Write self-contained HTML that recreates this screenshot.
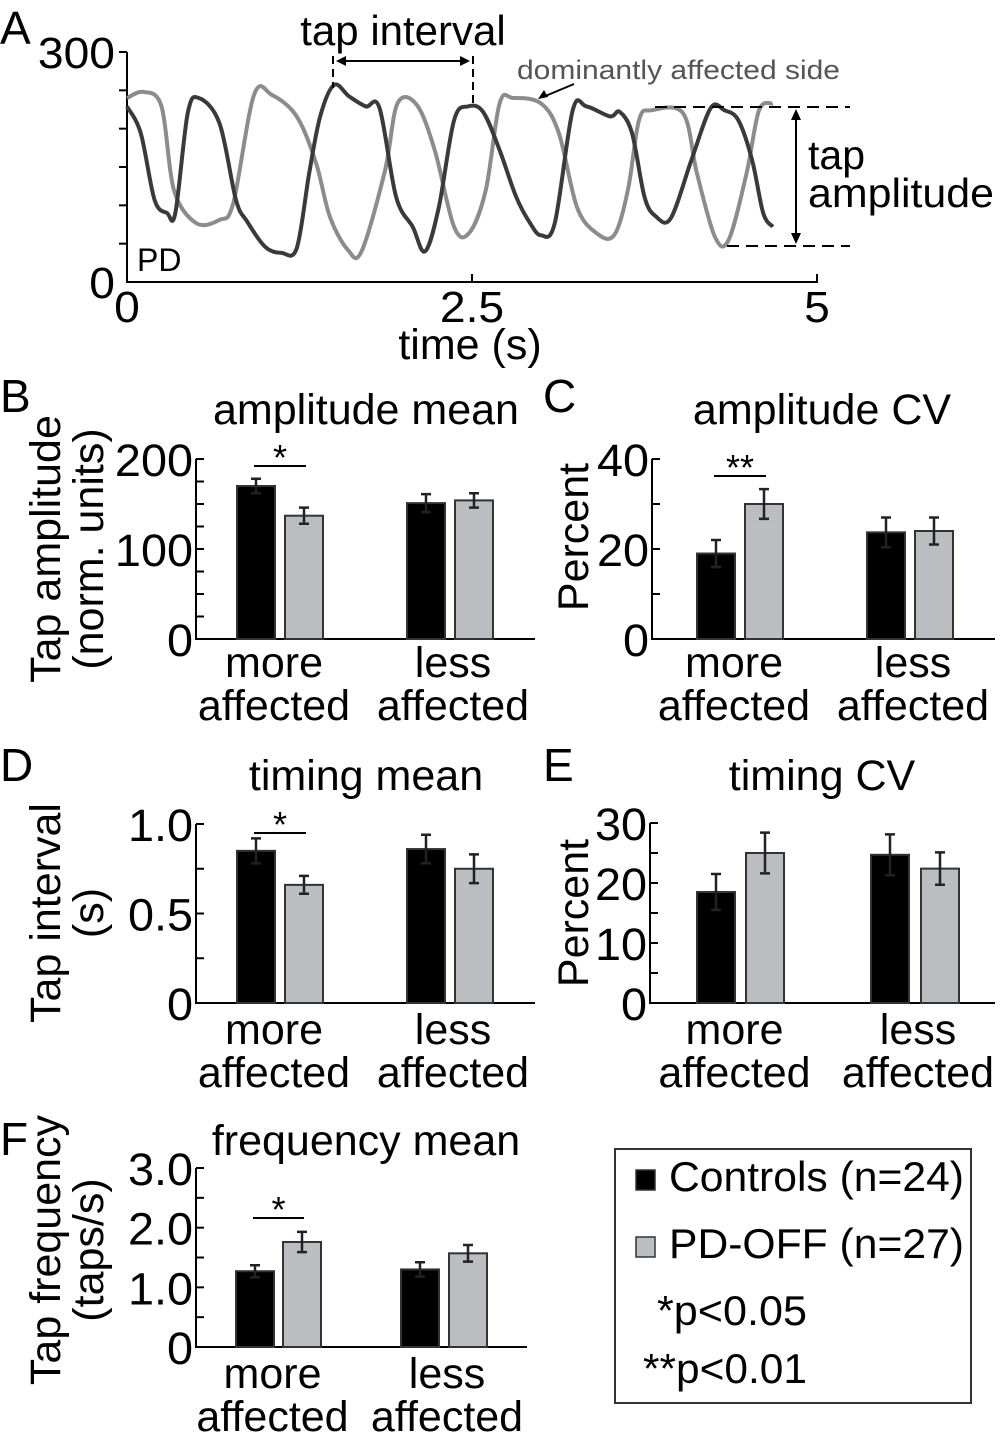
<!DOCTYPE html>
<html><head><meta charset="utf-8"><style>
html,body{margin:0;padding:0;background:#fff}
svg{display:block;font-family:"Liberation Sans",Arial,sans-serif}
</style></head><body>
<svg id="fig" width="1002" height="1445" viewBox="0 0 1002 1445" xmlns="http://www.w3.org/2000/svg"></svg>
<script>
// ---- Panel A data ----
const traceGrayT = [0,0.12,0.25,0.34,0.5,0.67,0.77,0.92,1.05,1.23,1.37,1.47,1.6,1.7,1.87,1.96,2.1,2.23,2.37,2.48,2.6,2.7,2.8,3.0,3.13,3.26,3.4,3.53,3.63,3.71,3.8,4.03,4.13,4.26,4.36,4.49,4.58,4.68];
const traceGrayV = [240,248,229,120,77,81,103,244,244,216,155,85,42,40,146,233,231,172,72,64,120,233,240,233,194,98,64,61,120,211,224,220,142,59,55,142,224,233];
const traceDarkT = [0,0.1,0.2,0.29,0.35,0.44,0.52,0.67,0.79,0.87,1.0,1.12,1.23,1.32,1.4,1.5,1.61,1.73,1.83,1.95,2.07,2.16,2.26,2.37,2.47,2.58,2.7,2.82,2.92,3.0,3.1,3.23,3.33,3.5,3.57,3.66,3.75,3.83,3.94,4.09,4.23,4.33,4.43,4.53,4.61,4.68];
const traceDarkV = [229,194,107,90,90,220,240,207,107,79,46,38,44,142,216,257,242,229,227,111,72,40,98,211,229,222,172,111,77,61,77,224,229,216,222,194,111,86,83,159,227,224,211,159,90,72];
const aYTicks = [0,300];
const aXTicks = [0,2.5,5];
const aXTickLabels = ["0","2.5","5"];

// ---- Bar panel data ----
const groups = ["more affected","less affected"];
const bValues = [170,137,151,154];
const bErrors = [8,9,10,8];
const bTicks = [0,100,200];
const bTickLabels = ["0","100","200"];
const cValues = [19,30,23.7,24];
const cErrors = [3,3.3,3.3,3];
const cTicks = [0,20,40];
const cTickLabels = ["0","20","40"];
const dValues = [0.85,0.66,0.86,0.75];
const dErrors = [0.07,0.05,0.08,0.08];
const dTicks = [0,0.5,1.0];
const dTickLabels = ["0","0.5","1.0"];
const eValues = [18.5,25,24.7,22.4];
const eErrors = [3,3.4,3.4,2.7];
const eTicks = [0,10,20,30];
const eTickLabels = ["0","10","20","30"];
const fValues = [1.27,1.76,1.3,1.57];
const fErrors = [0.1,0.17,0.12,0.14];
const fTicks = [0,1,2,3];
const fTickLabels = ["0","1.0","2.0","3.0"];

const NS="http://www.w3.org/2000/svg";
const svg=document.getElementById('fig');
function mk(tag,attrs,parent,text){const e=document.createElementNS(NS,tag);for(const k in attrs)e.setAttribute(k,attrs[k]);if(text!==undefined)e.textContent=text;(parent||svg).appendChild(e);return e;}
function stx(x,y,sx,size,anchor,parent,text){return mk('text',{x:0,y:0,'font-size':size,'text-anchor':anchor,transform:`translate(${x},${y}) scale(${sx},1)`},parent,text);}

// ---------- Panel A ----------
(function(){
  const g=mk('g',{});
  
  
  const x0=127,x1=817,y0=282,y1=52;
  const sx=t=>x0+(t/5)*(x1-x0);
  const sy=v=>y0-(v/300)*(y0-y1);
  let t=mk('text',{x:0,y:44,'font-size':46},g,'A');
  
  mk('path',{d:`M${x0},${y1} H${x0-8} M${x0},${y1} V${y0} H${x1} V${y0-8}`,stroke:'#000','stroke-width':2,fill:'none'},g);
  for(let v=50;v<300;v+=50){mk('line',{x1:x0,x2:x0-8,y1:sy(v),y2:sy(v),stroke:'#000','stroke-width':2},g);}
  aYTicks.forEach(v=>{const e=stx(x0-12,sy(v)+16,1.05,44,'end',g,String(v));});
  aXTicks.forEach((v,i)=>{mk('line',{x1:sx(v),x2:sx(v),y1:y0,y2:y0-8,stroke:'#000','stroke-width':2},g);const e=stx(sx(v),322,1.05,44,'middle',g,aXTickLabels[i]);});
  t=mk('text',{x:470,y:359,'font-size':43,'text-anchor':'middle'},g,'time (s)');
  t=mk('text',{x:137,y:271,'font-size':32},g,'PD');
  function smooth(T,V){
    const P=T.map((tt,i)=>[sx(tt),sy(V[i])]);
    let d=`M${P[0][0].toFixed(1)},${P[0][1].toFixed(1)}`;
    for(let i=0;i<P.length-1;i++){
      const p0=P[Math.max(0,i-1)],p1=P[i],p2=P[i+1],p3=P[Math.min(P.length-1,i+2)];
      const c1=[p1[0]+(p2[0]-p0[0])/6,p1[1]+(p2[1]-p0[1])/6];
      const c2=[p2[0]-(p3[0]-p1[0])/6,p2[1]-(p3[1]-p1[1])/6];
      d+=` C${c1[0].toFixed(1)},${c1[1].toFixed(1)} ${c2[0].toFixed(1)},${c2[1].toFixed(1)} ${p2[0].toFixed(1)},${p2[1].toFixed(1)}`;
    }
    return d;
  }
  let p=mk('path',{d:smooth(traceGrayT,traceGrayV),fill:'none',stroke:'#8c8c8c','stroke-width':4,'stroke-linejoin':'round'},g);
  
  p=mk('path',{d:smooth(traceDarkT,traceDarkV),fill:'none',stroke:'#3a3a3a','stroke-width':4,'stroke-linejoin':'round'},g);
  
  mk('line',{x1:333,x2:333,y1:56,y2:88,stroke:'#000','stroke-width':2,'stroke-dasharray':'8,5'},g);
  mk('line',{x1:473,x2:473,y1:56,y2:104,stroke:'#000','stroke-width':2,'stroke-dasharray':'8,5'},g);
  mk('line',{x1:338,x2:468,y1:61,y2:61,stroke:'#000','stroke-width':2},g);
  mk('path',{d:'M336,61 l10,-5 v10 z M470,61 l-10,-5 v10 z',fill:'#000'},g);
  t=mk('text',{x:403,y:45,'font-size':42,'text-anchor':'middle'},g,'tap interval');
  t=mk('text',{x:517,y:79,'font-size':27,fill:'#555',textLength:323,lengthAdjust:'spacingAndGlyphs'},g,'dominantly affected side');
  mk('line',{x1:574,x2:543,y1:84,y2:97,stroke:'#000','stroke-width':2},g);
  mk('path',{d:'M538,99 l6,-9 l4,7 z',fill:'#000'},g);
  mk('line',{x1:655,x2:850,y1:107,y2:107,stroke:'#000','stroke-width':2,'stroke-dasharray':'12,7'},g);
  mk('line',{x1:727,x2:850,y1:246,y2:246,stroke:'#000','stroke-width':2,'stroke-dasharray':'12,7'},g);
  mk('line',{x1:796,x2:796,y1:112,y2:241,stroke:'#000','stroke-width':2},g);
  mk('path',{d:'M796,109 l-5,11 h10 z M796,244 l-5,-11 h10 z',fill:'#000'},g);
  t=mk('text',{x:808,y:169,'font-size':41},g,'tap');
  mk('text',{x:808,y:207,'font-size':41,textLength:186,lengthAdjust:'spacingAndGlyphs'},g,'amplitude');
})();

// ---------- Bar panels ----------
function barPanel(o){
  const g=mk('g',{});
  
  
  const sy=v=>o.y0-(v/o.max)*(o.y0-o.y1);
  let t=mk('text',{x:o.lx,y:o.ly,'font-size':46},g,o.letter);
  
  t=mk('text',{x:o.tx,y:o.ty,'font-size':43,'text-anchor':'middle'},g,o.title);
  
  mk('path',{d:`M${o.ax},${o.y1} H${o.ax+8} M${o.ax},${o.y1} V${o.y0} H${o.axEnd}`,stroke:'#000','stroke-width':2,fill:'none'},g);
  for(let v=0;v<=o.max+1e-9;v+=o.minor){mk('line',{x1:o.ax,x2:o.ax+8,y1:sy(v),y2:sy(v),stroke:'#000','stroke-width':2},g);}
  o.ticks.forEach((v,i)=>{const e=stx(o.ax-3,sy(v)+17,1.04,45,'end',g,o.tickLabels[i]);});
  o.ytitle.forEach((s,i)=>{const cx=o.ytx[i];const e=mk('text',{x:cx,y:o.yty,'font-size':43,'text-anchor':'middle',transform:`rotate(-90 ${cx} ${o.yty})`,dy:15},g,s);});
  const bw=38;
  o.values.forEach((v,i)=>{
    const cx=o.centers[i];const top=sy(v);
    const r=mk('rect',{x:cx-bw/2,y:top,width:bw,height:o.y0-top,fill:i%2?'#bcbdc0':'#000',stroke:'#333','stroke-width':2},g);
    
    const e1=sy(v+o.errors[i]),e2=sy(v-o.errors[i]);
    const eb=mk('path',{d:`M${cx},${e1} V${e2} M${cx-5},${e1} h10 M${cx-5},${e2} h10`,stroke:'#222','stroke-width':2.5,fill:'none'},g);
    
  });
  const offs=[-6,3];
  groups.forEach((gname,j)=>{
    const cx=(o.centers[2*j]+o.centers[2*j+1])/2+offs[j];
    const w=gname.split(' ');
    let e=mk('text',{x:cx,y:o.xly,'font-size':43,'text-anchor':'middle'},g,w[0]);
    mk('text',{x:cx,y:o.xly+43,'font-size':43,'text-anchor':'middle'},g,w[1]);
  });
  if(o.sig){
    const y=o.sigY;
    mk('line',{x1:o.centers[0]-2,x2:o.centers[1]+2,y1:y,y2:y,stroke:'#000','stroke-width':2},g);
    const e=mk('text',{x:(o.centers[0]+o.centers[1])/2,y:y+4,'font-size':36,'text-anchor':'middle'},g,o.sig);
    
  }
}
const L={c:[256,304,426,474]};
barPanel({name:'panel-b',letter:'B',lx:0,ly:412,title:'amplitude mean',tx:366,ty:424,ax:196,axEnd:535,y0:639,y1:459,max:200,minor:25,ticks:bTicks,tickLabels:bTickLabels,values:bValues,errors:bErrors,centers:L.c,ytitle:['Tap amplitude','(norm. units)'],ytx:[45,88],yty:549,xly:677,sig:'*',sigY:466});
barPanel({name:'panel-c',letter:'C',lx:543,ly:412,title:'amplitude CV',tx:822,ty:424,ax:652,axEnd:995,y0:639,y1:459,max:40,minor:10,ticks:cTicks,tickLabels:cTickLabels,values:cValues,errors:cErrors,centers:[716,764,886,934],ytitle:['Percent'],ytx:[573],yty:537,xly:677,sig:'**',sigY:476});
barPanel({name:'panel-d',letter:'D',lx:0,ly:781,title:'timing mean',tx:366,ty:790,ax:196,axEnd:535,y0:1003,y1:824,max:1.0,minor:0.25,ticks:dTicks,tickLabels:dTickLabels,values:dValues,errors:dErrors,centers:L.c,ytitle:['Tap interval','(s)'],ytx:[45,88],yty:913,xly:1044,sig:'*',sigY:833});
barPanel({name:'panel-e',letter:'E',lx:543,ly:781,title:'timing CV',tx:822,ty:790,ax:650,axEnd:995,y0:1003,y1:823,max:30,minor:5,ticks:eTicks,tickLabels:eTickLabels,values:eValues,errors:eErrors,centers:[716,765,890,940],ytitle:['Percent'],ytx:[573],yty:913,xly:1044,sig:null});
barPanel({name:'panel-f',letter:'F',lx:0,ly:1155,title:'frequency mean',tx:366,ty:1155,ax:196,axEnd:527,y0:1347,y1:1168,max:3,minor:0.5,ticks:fTicks,tickLabels:fTickLabels,values:fValues,errors:fErrors,centers:[255,302,420,468],ytitle:['Tap frequency','(taps/s)'],ytx:[45,88],yty:1250,xly:1388,sig:'*',sigY:1218});

// ---------- Legend ----------
(function(){
  const g=mk('g',{});
  
  
  mk('rect',{x:615,y:1149,width:356,height:254,fill:'none',stroke:'#333','stroke-width':2},g);
  let r=mk('rect',{x:636,y:1170,width:19,height:20,fill:'#000',stroke:'#333','stroke-width':1.5},g);
  
  let t=mk('text',{x:669,y:1191,'font-size':42,textLength:295,lengthAdjust:'spacingAndGlyphs'},g,'Controls (n=24)');
  
  r=mk('rect',{x:636,y:1237,width:19,height:20,fill:'#bcbdc0',stroke:'#333','stroke-width':1.5},g);
  
  t=mk('text',{x:669,y:1258,'font-size':42,textLength:295,lengthAdjust:'spacingAndGlyphs'},g,'PD-OFF (n=27)');
  
  t=mk('text',{x:657,y:1325,'font-size':42,textLength:150,lengthAdjust:'spacingAndGlyphs'},g,'*p<0.05');
  
  t=mk('text',{x:643,y:1383,'font-size':42,textLength:164,lengthAdjust:'spacingAndGlyphs'},g,'**p<0.01');
  
})();
</script>
</body></html>
